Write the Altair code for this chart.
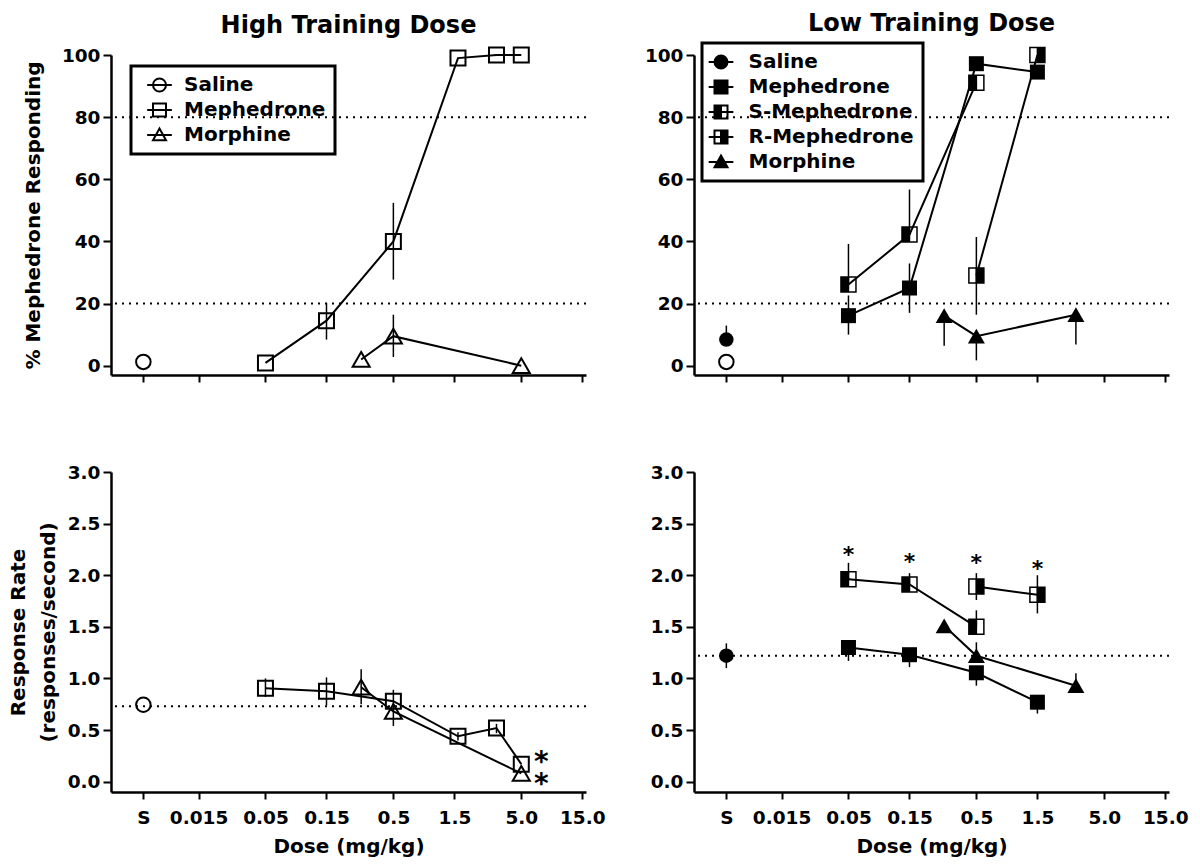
import altair as alt
import pandas as pd

FONT = "DejaVu Sans"
S = 0.00555  # position of the saline ("S") column on the log dose axis
X_TICKS = [S, 0.015, 0.05, 0.15, 0.5, 1.5, 5.0, 15.0]
PCT_TICKS = [0, 20, 40, 60, 80, 100]
RATE_TICKS = [0, 0.5, 1.0, 1.5, 2.0, 2.5, 3.0]

# ---- High training dose: % mephedrone responding
hi_sal_dose = [S]
hi_sal_pct = [1.2]
hi_meph_dose = [0.05, 0.15, 0.5, 1.6, 3.2, 5.0]
hi_meph_pct = [0.9, 14.5, 40.0, 99.0, 100.0, 100.0]
hi_meph_pct_lo = [None, 8.4, 27.7, None, None, None]
hi_meph_pct_hi = [None, 20.2, 52.4, None, None, None]
hi_morph_dose = [0.28, 0.5, 5.0]
hi_morph_pct = [2.0, 9.5, 0.0]
hi_morph_pct_lo = [None, 2.8, None]
hi_morph_pct_hi = [None, 16.4, None]

# ---- High training dose: response rate
hi_sal_rate = [0.745]
hi_meph_rate = [0.906, 0.877, 0.78, 0.44, 0.52, 0.17]
hi_meph_rate_lo = [0.82, 0.74, 0.68, 0.40, 0.47, None]
hi_meph_rate_hi = [1.00, 1.01, 0.89, 0.48, 0.56, None]
hi_morph_rate = [0.915, 0.68, 0.08]
hi_morph_rate_lo = [0.75, 0.54, None]
hi_morph_rate_hi = [1.09, 0.68, None]
hi_star_dose = [5.0, 5.0]
hi_star_rate = [0.25, 0.04]

# ---- Low training dose: % mephedrone responding
lo_sal_dose = [S]
lo_sal_pct = [8.4]
lo_sal_pct_lo = [8.4]
lo_sal_pct_hi = [12.9]
lo_sal_open_pct = [1.2]
lo_meph_dose = [0.05, 0.15, 0.5, 1.5]
lo_meph_pct = [16.1, 25.0, 97.2, 94.5]
lo_meph_pct_lo = [10.0, 17.0, None, None]
lo_meph_pct_hi = [22.6, 32.9, None, None]
lo_s_dose = [0.05, 0.15, 0.5]
lo_s_pct = [26.1, 42.2, 91.1]
lo_s_pct_lo = [26.1, 42.2, None]
lo_s_pct_hi = [39.2, 56.7, None]
lo_r_dose = [0.5, 1.5]
lo_r_pct = [29.0, 100.0]
lo_r_pct_lo = [16.4, None]
lo_r_pct_hi = [41.4, None]
lo_morph_dose = [0.28, 0.5, 3.0]
lo_morph_pct = [16.1, 9.5, 16.4]
lo_morph_pct_lo = [6.4, 1.7, 6.8]
lo_morph_pct_hi = [16.1, 9.5, 16.4]

# ---- Low training dose: response rate
lo_sal_rate = [1.22]
lo_sal_rate_lo = [1.10]
lo_sal_rate_hi = [1.34]
lo_meph_rate = [1.30, 1.23, 1.055, 0.77]
lo_meph_rate_lo = [1.17, 1.11, 0.93, 0.66]
lo_meph_rate_hi = [1.30, 1.23, 1.055, 0.77]
lo_s_rate = [1.96, 1.91, 1.50]
lo_s_rate_lo = [1.96, 1.91, 1.50]
lo_s_rate_hi = [2.12, 2.02, 1.66]
lo_r_rate = [1.89, 1.81]
lo_r_rate_lo = [1.76, 1.63]
lo_r_rate_hi = [2.02, 2.00]
lo_morph_rate = [1.51, 1.22, 0.93]
lo_morph_rate_lo = [1.51, 1.22, 0.93]
lo_morph_rate_hi = [1.51, 1.35, 1.05]
lo_star_dose = [0.05, 0.15, 0.5, 1.5]
lo_star_rate = [2.24, 2.18, 2.17, 2.11]

# dotted reference lines
pct_refs = [20, 80]
hi_rate_refs = [0.73]
lo_rate_refs = [1.22]

# legends
hi_names = ["Saline", "Mephedrone", "Morphine"]
lo_names = ["Saline", "Mephedrone", "S-Mephedrone", "R-Mephedrone", "Morphine"]

# symbol paths (unit box -1..1); the half squares retrace their open half so it stays unfilled
LEFT_HALF = "M-1,-1H0V1H-1Z M0,-1H1V1H0H1V-1H0"
RIGHT_HALF = "M0,-1H1V1H0Z M0,-1H-1V1H0H-1V-1H0"
BAR = "M-1.9,0H1.9 "
LEG_CIRCLE = BAR + "M1,0A1,1 0 1,1 -1,0A1,1 0 1,1 1,0Z"
LEG_SQUARE = BAR + "M-1,-1H1V1H-1Z"
LEG_TRI = BAR + "M0,-1L1,0.8H-1Z"

W, H = 475, 320
XSCALE = alt.Scale(type="log", domain=[0.0031, 16.03], nice=False)

STYLE = {
    "open_circle": dict(shape="circle", filled=False, size=210, strokeWidth=2),
    "circle": dict(shape="circle", filled=True, size=210),
    "open_square": dict(shape="square", filled=False, size=225, strokeWidth=2),
    "square": dict(shape="square", filled=True, size=225),
    "open_triangle": dict(shape="triangle-up", filled=False, size=290, strokeWidth=2),
    "triangle": dict(shape="triangle-up", filled=True, size=290),
    "left_half": dict(shape=LEFT_HALF, filled=True, fill="black", stroke="black",
                      size=225, strokeWidth=1.5),
    "right_half": dict(shape=RIGHT_HALF, filled=True, fill="black", stroke="black",
                       size=225, strokeWidth=1.5),
}


def legend_layer(names, paths, fills, field, lx, ly, sym_off, lab_off):
    leg = alt.Legend(title=None, orient="none", legendX=lx, legendY=ly,
                     labelFont=FONT, labelFontWeight="bold", labelFontSize=20,
                     labelColor="black", labelOffset=lab_off, symbolOffset=sym_off,
                     labelLimit=400, symbolSize=169, symbolStrokeWidth=2,
                     strokeColor="black", padding=9, rowPadding=3)
    return alt.Chart(pd.DataFrame({field: names})).mark_point(
        filled=True, opacity=1, strokeWidth=2, size=169
    ).encode(
        shape=alt.Shape(f"{field}:N", scale=alt.Scale(domain=names, range=paths), legend=leg),
        fill=alt.Fill(f"{field}:N", scale=alt.Scale(domain=names, range=fills), legend=leg),
        stroke=alt.Stroke(f"{field}:N", scale=alt.Scale(domain=names,
                                                         range=["black"] * len(names)),
                          legend=leg),
    ).transform_filter("false")


def panel(series, refs, ydomain, yticks, yfmt, ytitle=None, ytitle_x=0, xtitle=None,
          xlabels=False, stars=None, star_size=22, star_dx=0, legend=None, title=None):
    xaxis = alt.Axis(values=X_TICKS, labels=xlabels, tickSize=7, labelPadding=9,
                     titlePadding=10,
                     labelExpr="datum.value < 0.01 ? 'S' : datum.value >= 5 ? "
                               "format(datum.value, '.1f') : toString(datum.value)")
    x = alt.X("dose:Q", scale=XSCALE, axis=xaxis, title=xtitle)
    yaxis = alt.Axis(values=yticks, format=yfmt, tickSize=8, labelPadding=3,
                     titleX=ytitle_x, titleY=H / 2, titleLineHeight=30)
    yscale = alt.Scale(domain=ydomain, nice=False, zero=False)

    def y(f):
        return alt.Y(f"{f}:Q", scale=yscale, axis=yaxis, title=ytitle)

    bars, lines, points = [], [], []
    for dose, val, lo, hi, style in series:
        n = len(dose)
        df = pd.DataFrame({"dose": dose, "val": val,
                           "lo": lo if lo else [None] * n,
                           "hi": hi if hi else [None] * n})
        err = df.dropna(subset=["lo", "hi"])
        if len(err):
            bars.append(alt.Chart(err).mark_rule(color="black", strokeWidth=1.5)
                        .encode(x=x, y=y("lo"), y2="hi:Q"))
        if n > 1:
            lines.append(alt.Chart(df).mark_line(color="black", strokeWidth=2)
                         .encode(x=x, y=y("val")))
        points.append(alt.Chart(df).mark_point(color="black", opacity=1, **STYLE[style])
                      .encode(x=x, y=y("val")))

    ref = alt.Chart(pd.DataFrame({"ref": refs})).mark_rule(
        color="black", strokeWidth=2, strokeDash=[2, 5]).encode(y=y("ref"))
    layers = [ref] + bars + lines + points
    if stars:
        sd = pd.DataFrame({"dose": stars[0], "val": stars[1]})
        layers.append(alt.Chart(sd).mark_text(
            text="*", font=FONT, fontWeight="bold", fontSize=star_size, color="black",
            baseline="alphabetic", dx=star_dx, dy=round(star_size * 0.55)
        ).encode(x=x, y=y("val")))
    if legend is not None:
        layers.append(legend)
    ch = alt.layer(*layers).properties(width=W, height=H)
    if title:
        ch = ch.properties(title=alt.TitleParams(title, font=FONT, fontSize=24,
                                                 fontWeight="bold", color="black",
                                                 anchor="middle", offset=6))
    return ch


top_left = panel(
    [(hi_sal_dose, hi_sal_pct, None, None, "open_circle"),
     (hi_meph_dose, hi_meph_pct, hi_meph_pct_lo, hi_meph_pct_hi, "open_square"),
     (hi_morph_dose, hi_morph_pct, hi_morph_pct_lo, hi_morph_pct_hi, "open_triangle")],
    pct_refs, [-3, 100], PCT_TICKS, "d", ytitle="%  Mephedrone Responding", ytitle_x=-68,
    legend=legend_layer(hi_names, [LEG_CIRCLE, LEG_SQUARE, LEG_TRI],
                        ["white", "white", "white"], "key_hi", 20, 11, 9.5, 14.5),
    title="High Training Dose")

top_right = panel(
    [(lo_sal_dose, lo_sal_open_pct, None, None, "open_circle"),
     (lo_sal_dose, lo_sal_pct, lo_sal_pct_lo, lo_sal_pct_hi, "circle"),
     (lo_s_dose, lo_s_pct, lo_s_pct_lo, lo_s_pct_hi, "left_half"),
     (lo_r_dose, lo_r_pct, lo_r_pct_lo, lo_r_pct_hi, "right_half"),
     (lo_meph_dose, lo_meph_pct, lo_meph_pct_lo, lo_meph_pct_hi, "square"),
     (lo_morph_dose, lo_morph_pct, lo_morph_pct_lo, lo_morph_pct_hi, "triangle")],
    pct_refs, [-3, 100], PCT_TICKS, "d",
    legend=legend_layer(lo_names,
                        [LEG_CIRCLE, LEG_SQUARE, BAR + LEFT_HALF, BAR + RIGHT_HALF, LEG_TRI],
                        ["black"] * 5, "key_lo", 8, -12, 0, 17.5),
    title="Low Training Dose")

bottom_left = panel(
    [(hi_sal_dose, hi_sal_rate, None, None, "open_circle"),
     (hi_meph_dose, hi_meph_rate, hi_meph_rate_lo, hi_meph_rate_hi, "open_square"),
     (hi_morph_dose, hi_morph_rate, hi_morph_rate_lo, hi_morph_rate_hi, "open_triangle")],
    hi_rate_refs, [-0.1, 3.0], RATE_TICKS, ".1f",
    ytitle=["Response Rate", "(responses/second)"], ytitle_x=-83,
    xtitle="Dose (mg/kg)", xlabels=True,
    stars=(hi_star_dose, hi_star_rate), star_size=28, star_dx=20)

bottom_right = panel(
    [(lo_sal_dose, lo_sal_rate, lo_sal_rate_lo, lo_sal_rate_hi, "circle"),
     (lo_s_dose, lo_s_rate, lo_s_rate_lo, lo_s_rate_hi, "left_half"),
     (lo_r_dose, lo_r_rate, lo_r_rate_lo, lo_r_rate_hi, "right_half"),
     (lo_meph_dose, lo_meph_rate, lo_meph_rate_lo, lo_meph_rate_hi, "square"),
     (lo_morph_dose, lo_morph_rate, lo_morph_rate_lo, lo_morph_rate_hi, "triangle")],
    lo_rate_refs, [-0.1, 3.0], RATE_TICKS, ".1f",
    xtitle="Dose (mg/kg)", xlabels=True,
    stars=(lo_star_dose, lo_star_rate), star_size=22)

chart = alt.concat(
    top_left, top_right, bottom_left, bottom_right,
    columns=2, spacing={"row": 97, "column": 108}, bounds="flush",
    padding={"left": 0, "top": 3, "right": 0, "bottom": 0}
).resolve_scale(
    x="independent", y="independent", shape="independent", fill="independent",
    stroke="independent"
).configure_view(
    stroke=None
).configure_axis(
    grid=False, domainColor="black", domainWidth=2.5, tickColor="black", tickWidth=2,
    labelColor="black", titleColor="black", labelFont=FONT, titleFont=FONT,
    labelFontWeight="bold", titleFontWeight="bold", labelFontSize=18.5, titleFontSize=20
).configure_legend(strokeWidth=3)

chart.save("out.html", embed_options={"renderer": "svg", "actions": False})
